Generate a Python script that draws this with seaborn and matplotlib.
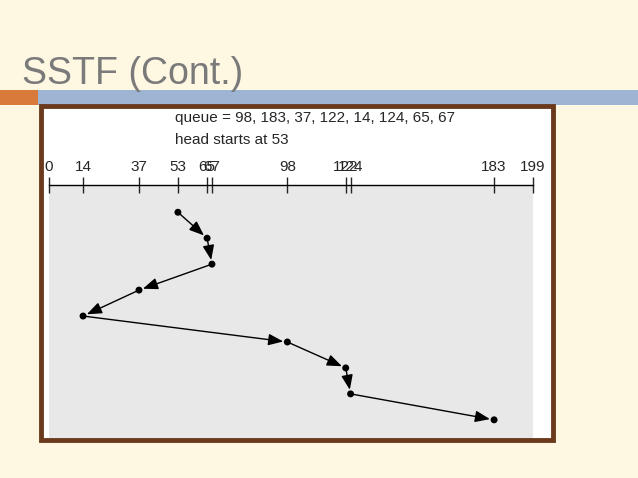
import matplotlib
matplotlib.use("Agg")
import matplotlib.pyplot as plt
import seaborn as sns
from matplotlib.patches import Rectangle

# SSTF service order
cylinders = [53, 65, 67, 37, 14, 98, 122, 124, 183]
tick_vals = [0, 14, 37, 53, 65, 67, 98, 122, 124, 183, 199]
steps = list(range(len(cylinders)))

sns.set_style("white")
plt.rcParams["font.family"] = ["Liberation Sans", "DejaVu Sans"]

fig = plt.figure(figsize=(6.38, 4.78), dpi=100)
fig.patch.set_facecolor("#fef7e2")

# title and header bars
fig.text(0.035, 0.845, "SSTF (Cont.)", fontsize=27, color="#7a7a7a", ha="left", va="center")
fig.add_artist(Rectangle((0, 1 - 105 / 478), 38 / 638, 15 / 478, transform=fig.transFigure,
                         color="#d9793a", lw=0, zorder=-2))
fig.add_artist(Rectangle((38 / 638, 1 - 105 / 478), 600 / 638, 15 / 478, transform=fig.transFigure,
                         color="#9db5d3", lw=0, zorder=-2))
# framed box
fig.add_artist(Rectangle((41 / 638, 1 - 440 / 478), 512 / 638, 334 / 478, transform=fig.transFigure,
                         facecolor="white", edgecolor="#6b3a1c", lw=3.5, zorder=-1))
fig.text(175 / 638, 1 - 118 / 478, "queue = 98, 183, 37, 122, 14, 124, 65, 67", fontsize=11, va="center")
fig.text(175 / 638, 1 - 140 / 478, "head starts at 53", fontsize=11, va="center")

ax = fig.add_axes([49 / 638, 1 - 438 / 478, 484 / 638, 253 / 478])
ax.set_zorder(2)
ax.set_facecolor("#e8e8e8")
sns.scatterplot(x=cylinders, y=steps, ax=ax, color="black", s=25, zorder=3, edgecolor="none")
for i in range(len(cylinders) - 1):
    ax.annotate("", xy=(cylinders[i + 1], steps[i + 1]), xytext=(cylinders[i], steps[i]),
                arrowprops=dict(arrowstyle="-|>,head_length=0.9,head_width=0.35", color="black",
                                lw=1, shrinkA=0, shrinkB=3))
ax.set_xlim(0, 199)
ax.set_ylim(8.7, -1.05)
ax.xaxis.tick_top()
ax.set_xticks(tick_vals)
ax.set_xticklabels([str(v) for v in tick_vals], fontsize=11)
ax.tick_params(axis="x", direction="inout", length=12, width=1, pad=2)
ax.set_yticks([])
for s in ["left", "right", "bottom"]:
    ax.spines[s].set_visible(False)
ax.spines["top"].set_linewidth(1)
ax.spines["top"].set_color("black")

fig.savefig("out.png", dpi=100, facecolor=fig.get_facecolor())
